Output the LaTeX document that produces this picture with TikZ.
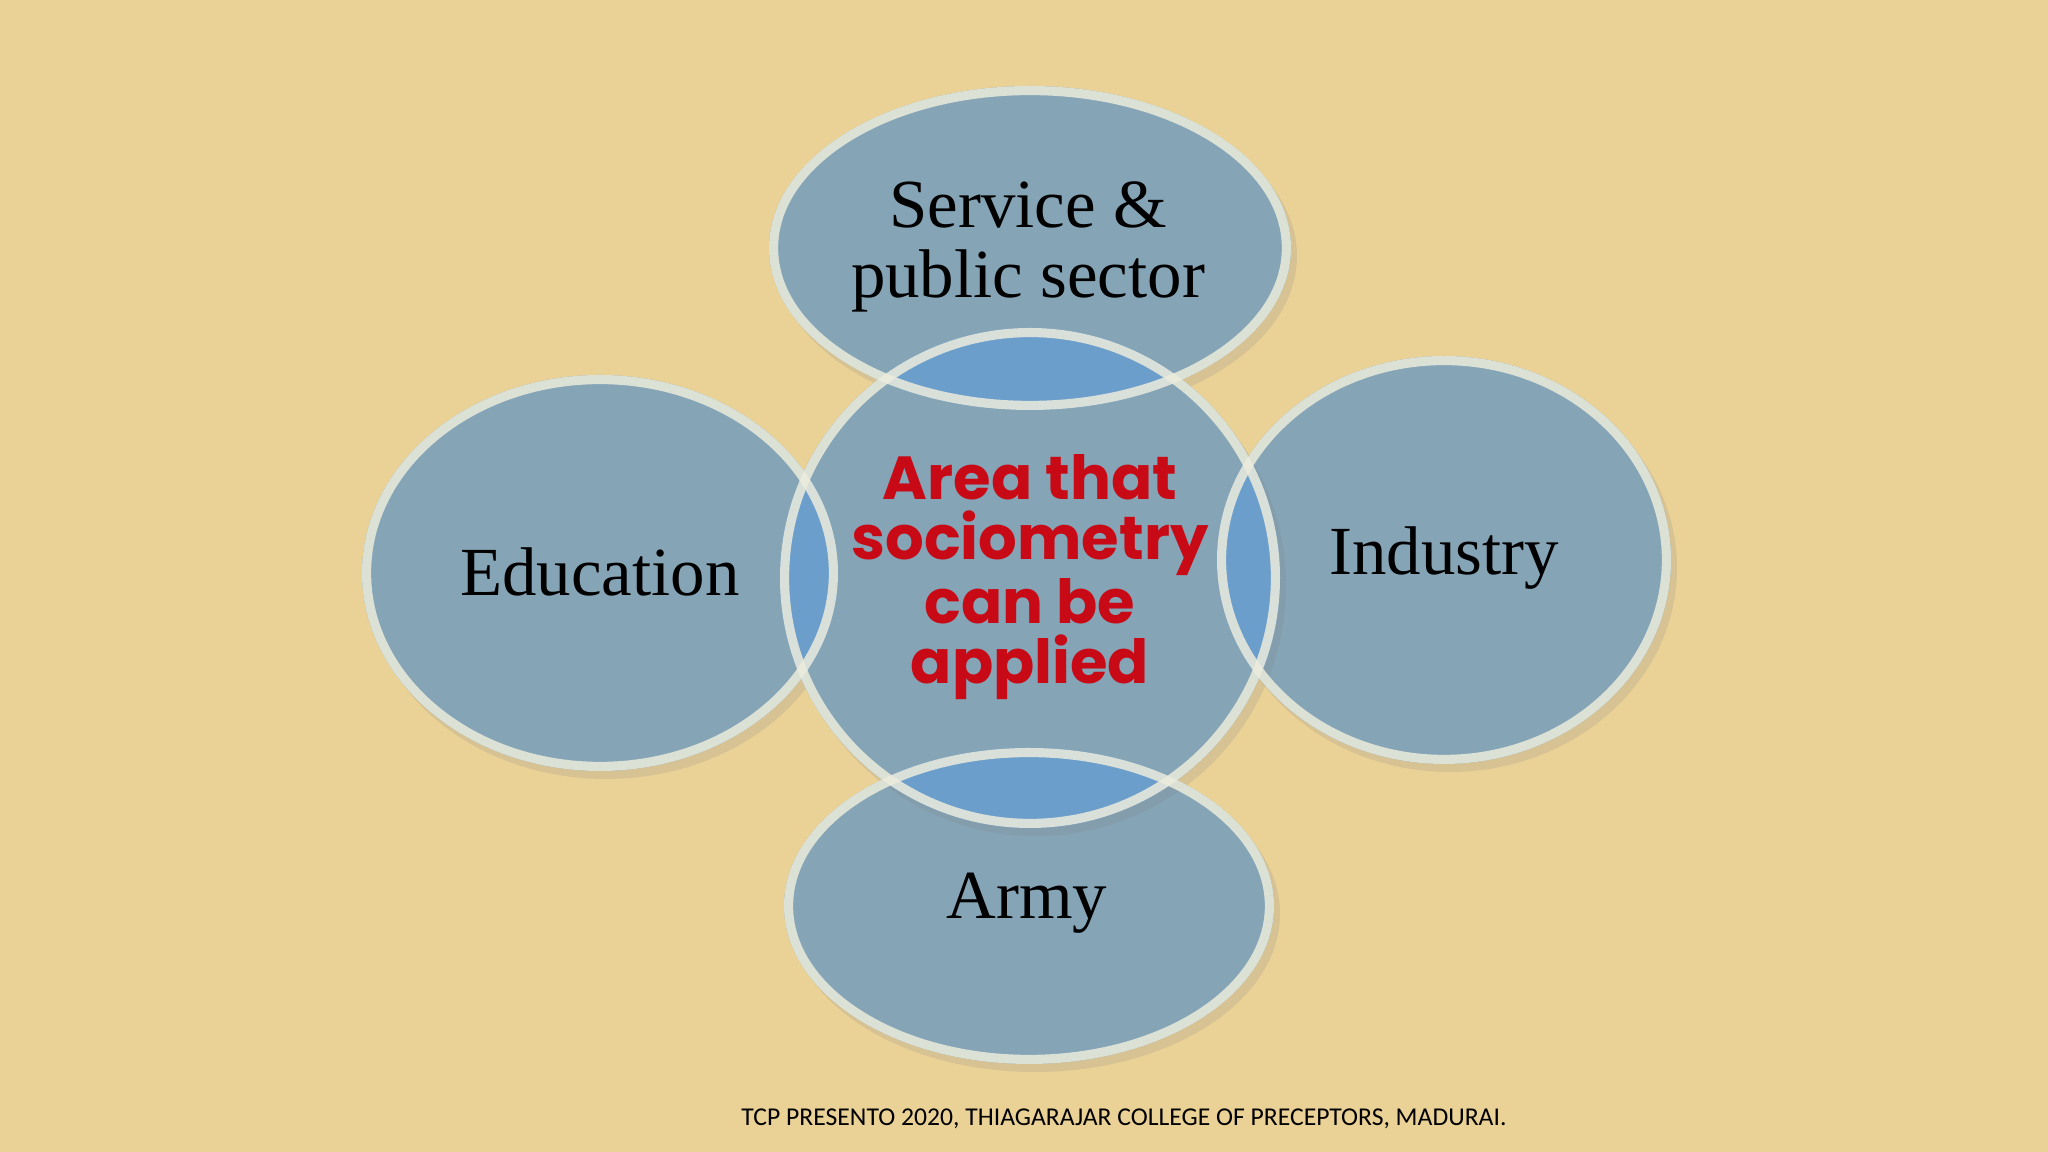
\documentclass[tikz,border=0pt]{standalone}
\usepackage{fontspec}
\setmainfont{Liberation Serif}
\newfontfamily\areafont{Poppins}
\newfontfamily\footfont{Carlito}
\usetikzlibrary{shapes,shadows}
\definecolor{paper}{RGB}{234,209,150}
\definecolor{blobfill}{RGB}{133,164,182}
\definecolor{lensfill}{RGB}{108,158,204}
\definecolor{rimcol}{RGB}{236,236,220}
\definecolor{areared}{RGB}{200,10,22}
\tikzstyle{blob}=[fill=blobfill,drop shadow={shadow xshift=.06,shadow yshift=-.08,opacity=.18}]
\tikzstyle{rim}=[draw=rimcol,line width=2.6pt,draw opacity=.85]
\tikzstyle{lbl}=[align=center,font=\fontsize{19.6}{19.8}\selectfont]

\begin{document}
\begin{tikzpicture}
	\useasboundingbox (0,0) rectangle (20.48,11.52);
	\fill[paper] (0,0) rectangle (20.48,11.52);
	% bubbles: top, left, right, bottom, then the middle one
	\foreach \cx/\cy/\rx/\ry in {10.30/9.04/2.61/1.62,6.00/5.79/2.38/1.98,14.44/5.92/2.27/2.04,10.29/2.46/2.45/1.58,10.30/5.74/2.50/2.50}
	\fill[blob] (\cx,\cy) ellipse (\rx cm and \ry cm);
	% overlaps with the middle bubble
	\foreach \cx/\cy/\rx/\ry in {10.30/9.04/2.61/1.62,6.00/5.79/2.38/1.98,14.44/5.92/2.27/2.04,10.29/2.46/2.45/1.58}
	{
	\begin{scope}
	\clip (10.30,5.74) circle (2.50);
	\fill[lensfill] (\cx,\cy) ellipse (\rx cm and \ry cm);
	\end{scope}
	}
	\foreach \cx/\cy/\rx/\ry in {10.30/9.04/2.61/1.62,6.00/5.79/2.38/1.98,14.44/5.92/2.27/2.04,10.29/2.46/2.45/1.58,10.30/5.74/2.50/2.50}
	\draw[rim] (\cx,\cy) ellipse ({\rx cm-1.3pt} and {\ry cm-1.3pt});
	% texts
	\node[lbl] (srv) at (10.28,9.05) {Service \&\\public sector};
	\node[lbl] (edu) at (6.00,5.80) {Education};
	\node[lbl] (ind) at (14.44,5.94) {Industry};
	\node[lbl] (army) at (10.27,2.49) {Army};
	\node[align=center,text=areared,font=\areafont\bfseries\fontsize{17.3}{17}\selectfont] (area) at (10.30,5.75) {Area that\\sociometry\\can be\\applied};
	\node[font=\footfont\fontsize{7.3}{9}\selectfont] (foot) at (11.24,0.33) {TCP PRESENTO 2020, THIAGARAJAR COLLEGE OF PRECEPTORS, MADURAI.};
\end{tikzpicture}
\end{document}
